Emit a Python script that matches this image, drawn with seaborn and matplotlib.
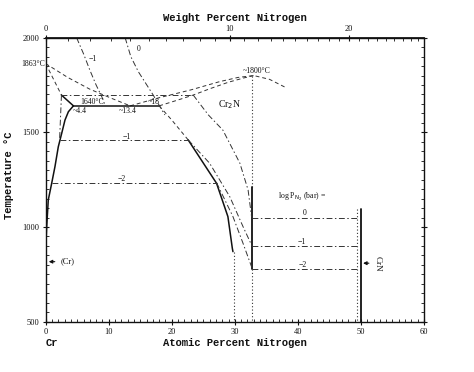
import numpy as np
import pandas as pd
import matplotlib
matplotlib.use("Agg")
import matplotlib.pyplot as plt
import seaborn as sns
from matplotlib.ticker import MultipleLocator, FixedLocator

# ---------------- data (at.% N, temperature in deg C) ----------------
liq_left_x = [0, 3.5, 7.0, 10.5, 13.4]
liq_left_T = [1863, 1790, 1728, 1679, 1640]
liq_right_x = [13.4, 18, 23, 27.6, 30.5, 33, 35.5, 38]
liq_right_T = [1640, 1683, 1724, 1768, 1790, 1800, 1780, 1738]
cr2n_sol_x = [18, 20.7, 23.4, 26, 29, 31.5, 33]
cr2n_sol_T = [1640, 1668, 1697, 1730, 1765, 1788, 1800]
cr_sol_dash_x = [0, 2.5]
cr_sol_dash_T = [1863, 1697]
cr_sol_solid_x = [2.5, 4.4]
cr_sol_solid_T = [1697, 1640]
cr_solvus_x = [4.4, 3.6, 3.06, 2.54, 2.0, 1.47, 0.95, 0.41, 0.16, 0.05]
cr_solvus_T = [1640, 1609, 1565, 1495, 1424, 1319, 1231, 1143, 1002, 922]
eut_x = [4.4, 18]
eut_T = [1640, 1640]
cr2n_left_dash_x = [18, 20, 22.6]
cr2n_left_dash_T = [1640, 1565, 1460]
cr2n_left_solid_x = [22.6, 27.1, 28.9, 29.6, 29.7]
cr2n_left_solid_T = [1460, 1231, 1055, 888, 870]
cr2n_left_low_x = [29.9, 29.9]
cr2n_left_low_T = [870, 500]
cr2n_right_x = [32.8, 32.8]
cr2n_right_top_T = [1800, 1213]
cr2n_right_mid_T = [1213, 777]
cr2n_right_low_T = [777, 500]
crn_dot_x = [49.4, 49.4]
crn_solid_x = [50, 50]
crn_T = [1094, 500]

# isobars (log P_N2 = 0, -1, -2)
iso_m1_liq_x = [4.9, 6.0, 7.0, 8.0, 8.9, 9.4]
iso_m1_liq_T = [2000, 1915, 1829, 1750, 1688, 1645]
iso_0_liq_x = [12.6, 13.5, 14.7, 17.05, 18.9]
iso_0_liq_T = [2000, 1900, 1820, 1697, 1592]
iso_0_cr_x = [2.5, 2.2]
iso_0_cr_T = [1697, 1460]
iso_0_h_x = [2.5, 23.4]
iso_0_h_T = [1697, 1697]
iso_0_cr2n_x = [23.4, 25.8, 28.1, 30.8, 32.1, 32.65, 32.8]
iso_0_cr2n_T = [1697, 1592, 1512, 1337, 1196, 1055, 1050]
iso_m1_h_x = [2.2, 22.6]
iso_m1_h_T = [1460, 1460]
iso_m1_cr2n_x = [22.6, 26.0, 29.2, 31.3, 32.65, 32.8]
iso_m1_cr2n_T = [1460, 1337, 1160, 1002, 905, 900]
iso_m2_h_x = [0.95, 27.1]
iso_m2_h_T = [1234, 1234]
iso_m2_cr2n_x = [27.1, 29.7, 31.3, 32.65, 32.8]
iso_m2_cr2n_T = [1234, 1055, 914, 790, 777]
iso_right_x = [32.8, 49.4]
iso_right_T0 = [1050, 1050]
iso_right_Tm1 = [900, 900]
iso_right_Tm2 = [777, 777]

x_ticks = [0, 10, 20, 30, 40, 50, 60]
y_ticks = [500, 1000, 1500, 2000]
wt_ticks = [0, 10, 20]

# ---------------- drawing ----------------
sns.set_theme(style="white")
plt.rcParams["font.family"] = ["Liberation Serif", "DejaVu Sans"]

fig = plt.figure(figsize=(4.74, 3.72), dpi=100)
ax = fig.add_axes([0.0964, 0.1352, 0.7981, 0.7635])

DASH = (0, (4, 3))
DASHDOT = (0, (6, 2.6, 1.5, 2.6))
DOT = (0, (1, 2))
COL = "#111111"
LCOL = "#333333"


def draw(x, y, ls, lw=0.7):
    df = pd.DataFrame({"x": x, "y": y})
    sns.lineplot(data=df, x="x", y="y", sort=False, estimator=None, ax=ax,
                 color=COL if ls == "-" else LCOL, linestyle=ls, lw=lw)


# phase boundaries
draw(liq_left_x, liq_left_T, DASH)
draw(liq_right_x, liq_right_T, DASH)
draw(cr2n_sol_x, cr2n_sol_T, DASH)
draw(cr_sol_dash_x, cr_sol_dash_T, DASH)
draw(cr_sol_solid_x, cr_sol_solid_T, "-", 1.1)
draw(cr_solvus_x, cr_solvus_T, "-", 1.1)
draw(eut_x, eut_T, "-", 1.1)
draw(cr2n_left_dash_x, cr2n_left_dash_T, DASH)
draw(cr2n_left_solid_x, cr2n_left_solid_T, "-", 1.1)
draw(cr2n_left_low_x, cr2n_left_low_T, DOT, 0.8)
draw(cr2n_right_x, cr2n_right_top_T, DOT, 0.8)
draw(cr2n_right_x, cr2n_right_mid_T, "-", 1.3)
draw(cr2n_right_x, cr2n_right_low_T, DOT, 0.8)
draw(crn_dot_x, crn_T, DOT, 0.8)
draw(crn_solid_x, crn_T, "-", 1.3)

# isobars
draw(iso_m1_liq_x, iso_m1_liq_T, DASHDOT)
draw(iso_0_liq_x, iso_0_liq_T, DASHDOT)
draw(iso_0_cr_x, iso_0_cr_T, DASHDOT)
draw(iso_0_h_x, iso_0_h_T, DASHDOT)
draw(iso_0_cr2n_x, iso_0_cr2n_T, DASHDOT)
draw(iso_m1_h_x, iso_m1_h_T, DASHDOT)
draw(iso_m1_cr2n_x, iso_m1_cr2n_T, DASHDOT)
draw(iso_m2_h_x, iso_m2_h_T, DASHDOT)
draw(iso_m2_cr2n_x, iso_m2_cr2n_T, DASHDOT)
draw(iso_right_x, iso_right_T0, DASHDOT)
draw(iso_right_x, iso_right_Tm1, DASHDOT)
draw(iso_right_x, iso_right_Tm2, DASHDOT)

ax.set_xlim(0, 60)
ax.set_ylim(500, 2000)
ax.set_xlabel("")
ax.set_ylabel("")
ax.xaxis.set_major_locator(FixedLocator(x_ticks))
ax.yaxis.set_major_locator(FixedLocator(y_ticks))
ax.xaxis.set_minor_locator(MultipleLocator(1))
ax.yaxis.set_minor_locator(MultipleLocator(50))
ax.set_xticklabels([str(v) for v in x_ticks])
ax.set_yticklabels([str(v) for v in y_ticks])
ax.tick_params(which="major", direction="inout", length=5, width=0.8,
               colors=COL, labelsize=6, pad=2, left=True, bottom=True, right=True, top=False)
ax.tick_params(which="minor", direction="in", length=2.2, width=0.6,
               colors=COL, left=True, bottom=True, right=True, top=False)
for s in ax.spines.values():
    s.set_color(COL)
    s.set_linewidth(1.0)


def at2wt(a):
    a = np.asarray(a, dtype=float)
    with np.errstate(all="ignore"):
        return 100 * 14.007 * a / (14.007 * a + 52.0 * (100 - a))


def wt2at(w):
    w = np.asarray(w, dtype=float)
    with np.errstate(all="ignore"):
        return 100 * (w / 14.007) / (w / 14.007 + (100 - w) / 52.0)


sec = ax.secondary_xaxis("top", functions=(at2wt, wt2at))
sec.xaxis.set_major_locator(FixedLocator(wt_ticks))
sec.xaxis.set_minor_locator(MultipleLocator(1))
sec.set_xticklabels([str(v) for v in wt_ticks])
sec.tick_params(which="major", direction="inout", length=5, width=0.8,
                colors=COL, labelsize=6, pad=1)
sec.tick_params(which="minor", direction="in", length=2.2, width=0.6, colors=COL)
sec.spines["top"].set_color(COL)

# axis titles
mono = ["Liberation Mono", "DejaVu Sans Mono"]
fig.text(0.4958, 0.9524, "Weight Percent Nitrogen", ha="center", va="center",
         fontsize=7.6, family=mono, fontweight="bold", color=COL)
fig.text(0.4958, 0.0793, "Atomic Percent Nitrogen", ha="center", va="center",
         fontsize=7.6, family=mono, fontweight="bold", color=COL)
fig.text(0.0197, 0.53, "Temperature °C", ha="center", va="center", rotation=90,
         fontsize=7.6, family=mono, fontweight="bold", color=COL)
fig.text(0.097, 0.0793, "Cr", ha="left", va="center",
         fontsize=7.6, family=mono, fontweight="bold", color=COL)

# annotations
fs = 5.6
ax.text(-0.15, 1863, "1863°C", ha="right", va="center", fontsize=fs, color=COL, clip_on=False)
ax.text(7.5, 1886, "−1", ha="center", va="center", fontsize=fs, color=COL)
ax.text(14.7, 1939, "0", ha="center", va="center", fontsize=fs, color=COL)
ax.text(7.3, 1659, "1640°C", ha="center", va="center", fontsize=fs, color=COL)
ax.text(5.4, 1612, "~4.4", ha="center", va="center", fontsize=fs, color=COL)
ax.text(13.0, 1612, "~13.4", ha="center", va="center", fontsize=fs, color=COL)
ax.text(17.1, 1662, "~18", ha="center", va="center", fontsize=fs, color=COL)
ax.text(33.5, 1822, "~1800°C", ha="center", va="center", fontsize=fs, color=COL)
ax.text(29.2, 1645, "Cr$_2$N", ha="center", va="center", fontsize=7, color=COL)
ax.text(12.8, 1477, "−1", ha="center", va="center", fontsize=fs, color=COL)
ax.text(12.0, 1254, "−2", ha="center", va="center", fontsize=fs, color=COL)
ax.text(36.8, 1160, "log P$_{\\mathrm{N_2}}$ (bar) =", ha="left", va="center", fontsize=fs, color=COL)
ax.text(41.1, 1072, "0", ha="center", va="center", fontsize=fs, color=COL)
ax.text(40.6, 919, "−1", ha="center", va="center", fontsize=fs, color=COL)
ax.text(40.7, 797, "−2", ha="center", va="center", fontsize=fs, color=COL)
ax.text(52.6, 805, "CrN", ha="center", va="center", fontsize=6.5, rotation=270, color=COL)
ax.annotate("", xy=(49.9, 809), xytext=(51.7, 809),
            arrowprops=dict(arrowstyle="-|>", color=COL, lw=0.8, mutation_scale=5))
ax.annotate("(Cr)", xy=(0.05, 817), xytext=(2.4, 817), ha="left", va="center",
            fontsize=6, color=COL,
            arrowprops=dict(arrowstyle="-|>", color=COL, lw=0.8, mutation_scale=5))

fig.savefig("out.png", dpi=100, facecolor="white")
